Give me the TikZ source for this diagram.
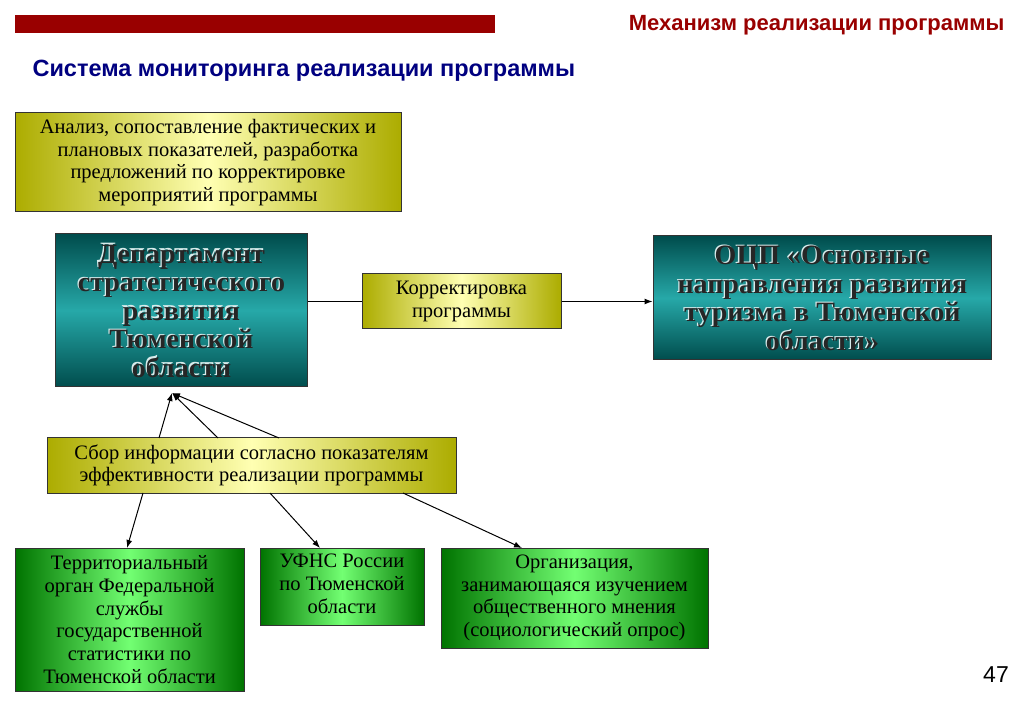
\documentclass[tikz,border=0pt]{standalone}
\usepackage{fontspec}
\setmainfont{Liberation Serif}
\newfontfamily\hsans{Liberation Sans}
\usetikzlibrary{arrows.meta}
\begin{document}
\begin{tikzpicture}[x=1pt,y=-1pt,
  ybox/.style={draw=black!80,line width=1pt,top color=yellow!50!olive!90!black,bottom color=yellow!50!olive!90!black,middle color=yellow!30!white,shading angle=90,align=center,inner sep=0pt,font=\fontsize{20.5}{22.5}\selectfont},
  tbox/.style={draw=black!80,line width=1pt,top color=teal!60!black,bottom color=teal!60!black,middle color=teal!80!cyan!85!white,align=center,inner sep=0pt},
  ttext/.style={align=center,inner sep=0pt,font=\bfseries\fontsize{28}{28.5}\selectfont,text=white!85!teal},
  gbox/.style={draw=black!80,line width=1pt,top color=green!45!black,bottom color=green!45!black,middle color=green!55!white,shading angle=90,align=center,inner sep=0pt,font=\fontsize{20.5}{22.7}\selectfont},
  arr/.style={-{Latex[length=8pt,width=6pt]},line width=1pt}]
\useasboundingbox (0,0) rectangle (1023,708);
\fill[red!60!black] (15,15) rectangle (495,33);
\node[anchor=east,text=red!60!black,font=\hsans\bfseries\fontsize{22}{24}\selectfont] (h) at (1008,25) {Механизм реализации программы};
\node[anchor=west,text=blue!50!black,font=\hsans\bfseries\fontsize{23.5}{26}\selectfont] (s) at (29,71) {Система мониторинга реализации программы};
\node[ybox,minimum width=386,minimum height=99] (a) at (208,162.5) {Анализ, сопоставление фактических и\\плановых показателей, разработка\\предложений по корректировке\\мероприятий программы};
\node[tbox,minimum width=252,minimum height=153] (d) at (181,310.5) {};
\node[ttext] (d1) at (180.2,309.7) {Департамент\\стратегического\\развития\\Тюменской\\области};
\node[ttext,text=black!85] (d2) at (181.5,311) {Департамент\\стратегического\\развития\\Тюменской\\области};
\node[ybox,minimum width=199,minimum height=55] (k) at (461.5,301.5) {Корректировка\\программы};
\node[tbox,minimum width=338,minimum height=124] (o) at (822,298) {};
\node[ttext] (o1) at (821.2,297.2) {ОЦП «Основные\\направления развития\\туризма в Тюменской\\области»};
\node[ttext,text=black!85] (o2) at (822.5,298.5) {ОЦП «Основные\\направления развития\\туризма в Тюменской\\области»};
\node[ybox,minimum width=409,minimum height=55] (c) at (251.5,465.5) {Сбор информации согласно показателям\\эффективности реализации программы};
\node[gbox,minimum width=229,minimum height=143] (t) at (129.5,619.5) {Территориальный\\орган Федеральной\\службы\\государственной\\статистики по\\Тюменской области};
\node[gbox,minimum width=164,minimum height=77] (u) at (342,586.5) {};
\node[align=center,inner sep=0pt,font=\fontsize{20.5}{22.7}\selectfont] (ut) at (342,584) {УФНС России\\по Тюменской\\области};
\node[gbox,minimum width=267,minimum height=100] (g) at (574.5,598) {Организация,\\занимающаяся изучением\\общественного мнения\\(социологический опрос)};
\node[font=\hsans\fontsize{23}{26}\selectfont] (n) at (996,675) {47};
\coordinate (tip) at (172,393);
\draw[line width=1pt] (d.east |- k.west) -- (k.west);
\draw[arr] (k.east) -- (o.west |- k.east);
\draw[arr] (159,438) -- (tip);
\draw[arr] (218,438) -- (tip);
\draw[arr] (279,438) -- (tip);
\draw[arr] (143,493) -- (127,548);
\draw[arr] (270,493) -- (320,548);
\draw[arr] (403,493) -- (522,548);
\end{tikzpicture}
\end{document}
